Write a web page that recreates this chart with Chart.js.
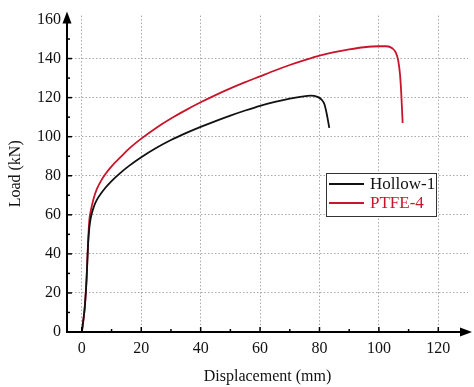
<!DOCTYPE html>
<html>
<head>
<meta charset="utf-8">
<script src="https://cdn.jsdelivr.net/npm/chart.js@4"></script>
<style>
  html, body { margin: 0; padding: 0; background: #fff; }
  #wrap { width: 474px; height: 387px; }
</style>
</head>
<body>
<div id="wrap"><canvas id="myChart"></canvas></div>
<script>
// Series
const hollowDisp = [0, 0.5, 1, 1.6, 2.1, 2.5, 2.8, 3, 4, 5, 6.5, 8, 10, 13, 16, 20, 25, 30, 35, 40, 45, 50, 55, 60, 65, 70, 74, 77, 79.3, 80.7, 81.7, 82.4, 82.9, 83.3];
const hollowLoad = [0, 6, 13, 27, 45, 53, 56.5, 58.5, 64, 67.5, 71, 74, 77.3, 81.5, 85.2, 89.5, 94.2, 98.3, 101.8, 105, 108, 110.8, 113.4, 115.8, 117.8, 119.5, 120.5, 121, 120.4, 119, 116.5, 112, 108, 104.5];

const ptfeDisp = [0, 0.5, 1, 1.6, 2.1, 2.5, 3, 4, 5, 6.5, 8, 10, 13, 16, 20, 25, 30, 35, 40, 45, 50, 55, 60, 65, 70, 75, 80, 85, 90, 95, 100, 102.5, 104.5, 105.7, 106.5, 107.1, 107.5, 108];
const ptfeLoad = [0, 6, 13, 28, 46, 57, 62, 68.5, 73, 77.5, 81, 84.8, 89.5, 94, 99, 104.5, 109.3, 113.6, 117.6, 121.3, 124.7, 127.9, 130.9, 133.9, 136.7, 139.2, 141.5, 143.3, 144.7, 145.8, 146.3, 146.3, 145.3, 143, 139, 132, 123, 107];

const seriesLabels = ["Hollow-1", "PTFE-4"];
const seriesColors = ["#111111", "#c8152b"];

const xTicks = [0, 20, 40, 60, 80, 100, 120];
const yTicks = [0, 20, 40, 60, 80, 100, 120, 140, 160];

const serif = "'Liberation Serif', 'Times New Roman', serif";

function toPoints(xs, ys) {
  return xs.map((x, i) => ({x: x, y: ys[i]}));
}

// inward minor/major ticks, axis arrows and boxed legend
const axisExtras = {
  id: "axisExtras",
  afterDraw(chart) {
    const ctx = chart.ctx;
    const xs = chart.scales.x, ys = chart.scales.y;
    const area = chart.chartArea;
    ctx.save();
    ctx.setLineDash([]);
    ctx.strokeStyle = "#000";
    ctx.lineWidth = 1.5;
    for (let v = 0; v <= 120; v += 10) {
      const px = xs.getPixelForValue(v);
      const len = v % 20 === 0 ? 5 : 3;
      ctx.beginPath();
      ctx.moveTo(px, area.bottom);
      ctx.lineTo(px, area.bottom - len);
      ctx.stroke();
    }
    for (let v = 10; v <= 150; v += 10) {
      const py = ys.getPixelForValue(v);
      const len = v % 20 === 0 ? 5 : 3;
      ctx.beginPath();
      ctx.moveTo(area.left, py);
      ctx.lineTo(area.left + len, py);
      ctx.stroke();
    }
    // arrows
    ctx.fillStyle = "#000";
    ctx.beginPath();
    ctx.moveTo(area.right + 4, area.bottom);
    ctx.lineTo(area.right - 8, area.bottom - 4.5);
    ctx.lineTo(area.right - 8, area.bottom + 4.5);
    ctx.closePath();
    ctx.fill();
    ctx.beginPath();
    ctx.moveTo(area.left, area.top - 4);
    ctx.lineTo(area.left - 4.5, area.top + 8);
    ctx.lineTo(area.left + 4.5, area.top + 8);
    ctx.closePath();
    ctx.fill();

    // legend box
    const bx = 326, by = 173, bw = 110, bh = 43;
    ctx.fillStyle = "#fff";
    ctx.fillRect(bx, by, bw, bh);
    ctx.strokeStyle = "#333";
    ctx.lineWidth = 1;
    ctx.strokeRect(bx + 0.5, by + 0.5, bw, bh);
    ctx.font = "17px " + serif;
    ctx.textBaseline = "middle";
    chart.data.datasets.forEach((ds, i) => {
      const cy = by + 11 + i * 19;
      ctx.strokeStyle = ds.borderColor;
      ctx.lineWidth = 1.8;
      ctx.beginPath();
      ctx.moveTo(bx + 3, cy);
      ctx.lineTo(bx + 38, cy);
      ctx.stroke();
      ctx.fillStyle = ds.borderColor;
      ctx.fillText(ds.label, bx + 44, cy + 1);
    });
    ctx.restore();
  }
};

const data = {
  datasets: [
    {
      label: seriesLabels[0],
      data: toPoints(hollowDisp, hollowLoad),
      borderColor: seriesColors[0],
      borderWidth: 1.8,
    },
    {
      label: seriesLabels[1],
      data: toPoints(ptfeDisp, ptfeLoad),
      borderColor: seriesColors[1],
      borderWidth: 1.8,
    },
  ],
};

const config = {
  type: "line",
  data: data,
  plugins: [axisExtras],
  options: {
    responsive: true,
    maintainAspectRatio: false,
    animation: false,
    layout: {padding: {left: 0, top: 8, right: 6, bottom: 0}},
    elements: {
      point: {radius: 0},
      line: {cubicInterpolationMode: "monotone", fill: false},
    },
    plugins: {
      legend: {display: false},
      tooltip: {enabled: false},
    },
    scales: {
      x: {
        type: "linear",
        min: -5,
        max: 130,
        afterBuildTicks: s => { s.ticks = xTicks.map(v => ({value: v})); },
        afterFit: s => { s.height = 55; },
        border: {color: "#000", width: 2, dash: [1.5, 2]},
        grid: {
          drawTicks: false,
          color: "#a8a8a8",
          lineWidth: 1,
        },
        ticks: {
          padding: 7,
          color: "#111",
          font: {family: serif, size: 16},
        },
        title: {
          display: true,
          text: "Displacement (mm)",
          color: "#111",
          font: {family: serif, size: 16},
          padding: {top: 0, bottom: 1},
        },
      },
      y: {
        min: 0,
        max: 162,
        afterBuildTicks: s => { s.ticks = yTicks.map(v => ({value: v})); },
        afterFit: s => { s.width = 67; },
        border: {color: "#000", width: 2, dash: [1.5, 2]},
        grid: {
          drawTicks: false,
          color: c => (c.tick && (c.tick.value === 0 || c.tick.value === 160)) ? "rgba(0,0,0,0)" : "#a8a8a8",
          lineWidth: 1,
        },
        ticks: {
          padding: 6,
          color: "#111",
          font: {family: serif, size: 16},
        },
        title: {
          display: true,
          text: "Load (kN)",
          color: "#111",
          font: {family: serif, size: 16},
          padding: {top: 6, bottom: 0},
        },
      },
    },
  },
};

window.onload = function () {
  const ctx = document.getElementById("myChart");
  new Chart(ctx, config);
};
</script>
</body>
</html>
